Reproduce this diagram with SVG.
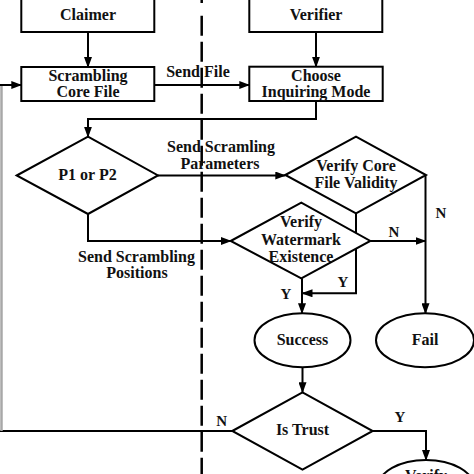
<svg xmlns="http://www.w3.org/2000/svg" width="474" height="474" viewBox="0 0 474 474">
<style>
.n{fill:#fff;stroke:#000;stroke-width:2}
.t{font-family:"Liberation Serif","Times New Roman",serif;font-weight:bold;font-size:16px;fill:#111;text-anchor:middle}
.s{font-size:15px}
.c{fill:none;stroke:#000;stroke-width:2}
.a{marker-end:url(#ah)}
</style>
<defs>
<marker id="ah" markerUnits="userSpaceOnUse" markerWidth="11" markerHeight="8" refX="10" refY="4" orient="auto">
<path d="M0,0 L11,4 L0,8 z" fill="#000"/>
</marker>
</defs>
<rect width="474" height="474" fill="#fff"/>
<g id="lane-divider">
<line x1="201.7" y1="0" x2="201.7" y2="3" stroke="#000" stroke-width="2.5"/>
<line x1="201.7" y1="15.7" x2="201.7" y2="474" stroke="#000" stroke-width="2.5" stroke-dasharray="20 6"/>
</g>
<g id="connectors">
<path class="c a" d="M88,32 V67"/>
<path class="c a" d="M316,32 V66.7"/>
<path class="c a" d="M154.3,85 H249.3"/>
<path class="c a" d="M316,101 V119 H88 V136.7"/>
<path class="c a" d="M158,175.5 H285.3"/>
<path class="c a" d="M88,214 V241 H230.7"/>
<path class="c a" d="M356,213.3 V293.3 H302.5"/>
<path class="c a" d="M302,278.3 V313.3"/>
<path class="c a" d="M370.3,241 H425.5"/>
<path class="c a" d="M425.5,175 V313.3"/>
<path class="c a" d="M302.5,367.3 V392.3"/>
<path class="c a" d="M372.7,431 H426 V460"/>
<path class="c" d="M232.3,431 H0"/>
<path fill="none" stroke="#a8a8a8" stroke-width="2.5" d="M1.5,431 V85"/>
<path class="c a" d="M0,85 H21.3"/>
</g>
<g id="claimer">
<rect class="n" x="21.3" y="-3" width="133" height="35"/>
<text class="t" x="88" y="19.5">Claimer</text>
</g>
<g id="verifier">
<rect class="n" x="249.3" y="-3" width="133" height="35"/>
<text class="t" x="316" y="19.5">Verifier</text>
</g>
<g id="scrambling">
<rect class="n" x="21.3" y="67" width="133" height="34"/>
<text class="t" x="88" y="81">Scrambling</text>
<text class="t" x="88" y="97.3">Core File</text>
</g>
<g id="choose">
<rect class="n" x="249.3" y="66.7" width="133.4" height="34.3"/>
<text class="t" x="316" y="81">Choose</text>
<text class="t" x="316" y="97.3">Inquiring Mode</text>
</g>
<g id="p1p2">
<polygon class="n" points="16.7,175.5 88,136.7 158,175.5 88,214"/>
<text class="t" x="87.5" y="180">P1 or P2</text>
</g>
<g id="verify-core">
<polygon class="n" points="285.3,175 356,136.7 426,175 356,213.3"/>
<text class="t" x="356" y="171">Verify Core</text>
<text class="t" x="356" y="187.7">File Validity</text>
</g>
<g id="verify-watermark">
<polygon class="n" points="230.7,241 301.3,202.7 370.3,241 301.3,278.3"/>
<text class="t" x="301" y="227.3">Verify</text>
<text class="t" x="301" y="245">Watermark</text>
<text class="t" x="301" y="262.3">Existence</text>
</g>
<g id="success">
<ellipse class="n" cx="302.5" cy="340.3" rx="48" ry="27"/>
<text class="t" x="302.5" y="345">Success</text>
</g>
<g id="fail">
<ellipse class="n" cx="425" cy="340.3" rx="49" ry="27"/>
<text class="t" x="425" y="345">Fail</text>
</g>
<g id="is-trust">
<polygon class="n" points="232.3,431 302.5,392.3 372.7,431 302.5,469.7"/>
<text class="t" x="302.5" y="435">Is Trust</text>
</g>
<g id="verify-end">
<ellipse class="n" cx="426" cy="487" rx="48" ry="27"/>
<text class="t" x="426" y="481">Verify</text>
</g>
<g id="labels">
<text class="t" x="198" y="76.7">Send File</text>
<text class="t" x="221" y="151.7">Send Scramling</text>
<text class="t" x="220" y="169.3">Parameters</text>
<text class="t" x="136.5" y="261.7">Send Scrambling</text>
<text class="t" x="137" y="278.3">Positions</text>
<text class="t s" x="343" y="287">Y</text>
<text class="t s" x="286" y="299">Y</text>
<text class="t s" x="394" y="237">N</text>
<text class="t s" x="441" y="218">N</text>
<text class="t s" x="221.7" y="426">N</text>
<text class="t s" x="400" y="421.5">Y</text>
</g>
</svg>
